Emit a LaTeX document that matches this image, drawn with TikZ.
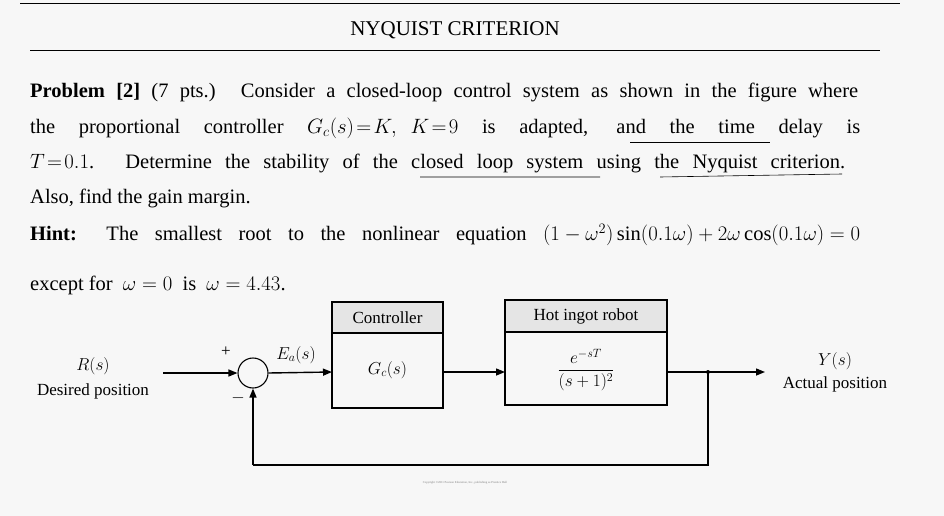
\documentclass[tikz,border=0pt]{standalone}
\usepackage{amsmath}
\usepackage{fontspec}
\setmainfont{Liberation Serif}
\usetikzlibrary{arrows.meta}
\begin{document}
\begin{tikzpicture}[x=1pt,y=-1pt,
  txt/.style={anchor=west,inner sep=0pt,font=\fontsize{20.5}{22}\selectfont},
  lbl/.style={inner sep=0pt,font=\fontsize{17}{19}\selectfont},
  blk/.style={draw,line width=1.1pt},
  hdr/.style={draw,line width=1.1pt,fill=gray!20},
  sig/.style={line width=1.4pt,-{Triangle[length=9pt,width=7pt]}},
  wire/.style={line width=1.4pt}]
\fill[gray!6] (0,0) rectangle (944,516);
\useasboundingbox (0,0) rectangle (944,516);
\draw[line width=0.8pt] (20,3) -- (900,3);
\node[inner sep=0pt,font=\fontsize{21}{23}\selectfont] (title) at (455,30) {NYQUIST CRITERION};
\draw[line width=0.8pt] (30,50) -- (880,50);
\node[txt] (l1) at (30,92) {\makebox[828pt][s]{\textbf{Problem [2]} (7 pts.) Consider a closed-loop control system as shown in the figure where}};
\node[txt] (l2) at (30,128) {\makebox[830pt][s]{the proportional controller \mbox{$G_c(s)\!=\!K,\ \ K\!=\!9$} is adapted, and the time delay is}};
\node[txt] (l3) at (30,163) {\makebox[815pt][s]{\mbox{$T\!=\!0.1$}. Determine the stability of the closed loop system using the Nyquist criterion.}};
\node[txt] (l4) at (30,198) {Also, find the gain margin.};
\node[txt] (l5) at (30,235) {\makebox[830pt][s]{\textbf{Hint:} The smallest root to the nonlinear equation \mbox{$(1-\omega^2)\sin(0.1\omega)+2\omega\cos(0.1\omega)=0$}}};
\node[txt] (l6) at (30,285) {except for \ $\omega=0$ \ is \ $\omega=4.43$.};
\draw[line width=0.6pt] (420,177) -- (600,177) (660,177) -- (842,174);
\draw[line width=0.6pt] (630,142) -- (770,142);
\draw[hdr] (332,302) rectangle (443,333);
\node[lbl] (ch) at (387.5,318) {Controller};
\draw[blk] (332,333) rectangle (443,408);
\node[lbl] (ctrl) at (387.5,370) {$G_c(s)$};
\draw[hdr] (505,300) rectangle (667,332);
\node[lbl] (rh) at (586,316) {Hot ingot robot};
\draw[blk] (505,332) rectangle (667,405);
\node[lbl] (plant) at (586,370) {$\dfrac{e^{-sT}}{(s+1)^2}$};
\coordinate (cw) at (332,372);
\coordinate (pw) at (505,372);
\coordinate (ce) at (443,372);
\coordinate (pe) at (667,372);
\node[draw,circle,line width=1.1pt,minimum size=30pt,inner sep=0pt] (sum) at (253,373) {};
\node[lbl,align=center] (R) at (93,378) {$R(s)$\\[6pt]Desired position};
\coordinate (rin) at (163,373);
\draw[sig] (rin) -- (sum.west);
\node[lbl] (plus) at (226,352) {+};
\node[lbl] (minus) at (238,398) {$-$};
\node[lbl] (ea) at (296,355) {$E_a(s)$};
\draw[sig] (sum.east) -- (cw);
\draw[sig] (ce) -- (pw);
\coordinate (br) at (708,372);
\coordinate (yout) at (765,372);
\draw[sig] (pe) -- (yout);
\node[lbl,align=center] (Y) at (835,372) {$Y(s)$\\[4pt]Actual position};
\fill (br) circle (2pt);
\coordinate (c1) at (708,465);
\coordinate (c2) at (253,465);
\draw[wire] (br) -- (c1) -- (c2);
\draw[sig] (c2) -- (sum.south);
\node[inner sep=0pt,font=\fontsize{3}{3}\selectfont,text=gray] (copy) at (465,483) {Copyright \copyright 2011 Pearson Education, Inc., publishing as Prentice Hall};
\end{tikzpicture}
\end{document}
